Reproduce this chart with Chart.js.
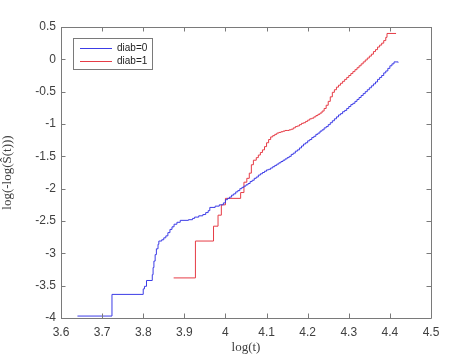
<!DOCTYPE html>
<html>
<head>
<meta charset="utf-8">
<script src="https://cdn.jsdelivr.net/npm/chart.js@4"></script>
<style>
html,body{margin:0;padding:0;background:#fff;}
#wrap{width:474px;height:355px;}
</style>
</head>
<body>
<div id="wrap"><canvas id="c" width="474" height="355"></canvas></div>
<script>
const seriesLabels = ['diab=0', 'diab=1'];
const xTicks = [3.6, 3.7, 3.8, 3.9, 4.0, 4.1, 4.2, 4.3, 4.4, 4.5];
const yTicks = [-4, -3.5, -3, -2.5, -2, -1.5, -1, -0.5, 0, 0.5];

const diab0LogT = [3.64,3.724,3.80,3.803,3.808,3.822,3.824,3.826,3.829,3.832,3.836,3.838,3.845,3.85,3.855,3.86,3.865,3.87,3.875,3.882,3.89,3.91,3.92,3.925,3.935,3.945,3.952,3.958,3.962,3.975,3.985,3.995,
  4.0,4.005,4.01,4.015,4.02,4.025,4.03,4.035,4.04,4.045,4.05,4.055,4.06,4.065,4.07,4.075,4.08,4.085,4.09,4.095,4.1,4.105,4.11,4.115,4.12,4.125,4.13,4.135,4.14,4.145,4.15,4.155,4.16,4.165,4.17,4.175,4.18,4.185,4.19,4.195,4.2,4.205,4.21,4.215,4.22,4.225,4.23,4.235,4.24,4.245,4.25,4.255,4.26,4.265,4.27,4.275,4.28,4.285,4.29,4.295,4.3,4.305,4.31,4.315,4.32,4.325,4.33,4.335,4.34,4.345,4.35,4.355,4.36,4.365,4.37,4.375,4.38,4.385,4.39,4.395,4.4,4.405,4.41,4.415,4.42];
const diab0Value = [-3.97,-3.635,-3.55,-3.51,-3.42,-3.33,-3.22,-3.12,-3.02,-2.93,-2.86,-2.81,-2.79,-2.76,-2.73,-2.68,-2.63,-2.59,-2.55,-2.52,-2.49,-2.48,-2.46,-2.44,-2.42,-2.40,-2.37,-2.34,-2.29,-2.27,-2.25,-2.22,
  -2.17,-2.15,-2.13,-2.10,-2.08,-2.05,-2.03,-2.00,-1.98,-1.96,-1.94,-1.92,-1.89,-1.87,-1.84,-1.82,-1.79,-1.77,-1.75,-1.73,-1.71,-1.70,-1.68,-1.66,-1.64,-1.62,-1.60,-1.58,-1.56,-1.54,-1.52,-1.50,-1.47,-1.45,-1.42,-1.40,-1.37,-1.34,-1.31,-1.29,-1.26,-1.24,-1.21,-1.19,-1.16,-1.14,-1.11,-1.09,-1.06,-1.04,-1.01,-0.98,-0.95,-0.92,-0.89,-0.86,-0.84,-0.81,-0.79,-0.76,-0.73,-0.70,-0.68,-0.65,-0.62,-0.59,-0.56,-0.53,-0.50,-0.47,-0.44,-0.41,-0.38,-0.35,-0.31,-0.28,-0.25,-0.21,-0.18,-0.14,-0.10,-0.07,-0.04,-0.04,-0.05];

const diab1LogT = [3.874,3.927,3.971,3.982,3.99,4.0,4.037,4.045,4.052,4.058,4.063,4.068,4.075,4.08,4.085,4.09,4.095,4.1,4.105,4.11,4.115,4.12,4.125,4.13,4.135,4.14,4.145,4.15,4.155,4.16,4.165,4.17,4.175,4.18,4.185,4.19,4.195,4.2,4.205,4.21,4.215,4.22,4.225,4.23,4.235,4.24,4.245,4.25,4.255,4.26,4.265,4.27,4.275,4.28,4.285,4.29,4.295,4.3,4.305,4.31,4.315,4.32,4.325,4.33,4.335,4.34,4.345,4.35,4.355,4.36,4.365,4.37,4.375,4.38,4.385,4.39,4.393,4.415];
const diab1Value = [-3.38,-2.81,-2.58,-2.41,-2.25,-2.15,-2.06,-1.90,-1.84,-1.76,-1.63,-1.56,-1.52,-1.48,-1.44,-1.40,-1.35,-1.29,-1.24,-1.20,-1.18,-1.16,-1.14,-1.13,-1.12,-1.11,-1.10,-1.10,-1.09,-1.08,-1.06,-1.04,-1.03,-1.01,-0.99,-0.98,-0.96,-0.94,-0.92,-0.91,-0.89,-0.87,-0.85,-0.83,-0.80,-0.76,-0.71,-0.65,-0.58,-0.51,-0.47,-0.43,-0.40,-0.37,-0.34,-0.31,-0.28,-0.25,-0.22,-0.19,-0.16,-0.13,-0.10,-0.07,-0.04,-0.01,0.02,0.05,0.08,0.12,0.15,0.19,0.22,0.25,0.29,0.34,0.40,0.40];

const colors = ['#3c3ce6', '#e63c46'];
const axisColor = '#7a7a7a';
const tickTextColor = '#404040';

function pts(xs, ys){ return xs.map((x,i)=>({x:x, y:ys[i]})); }

const boxTicksPlugin = {
  id: 'boxTicks',
  afterDatasetsDraw(chart){
    const {ctx, chartArea:a, scales} = chart;
    ctx.save();
    ctx.strokeStyle = axisColor;
    ctx.lineWidth = 1;
    ctx.beginPath();
    ctx.rect(Math.round(a.left)+0.5, Math.round(a.top)+0.5, Math.round(a.right-a.left), Math.round(a.bottom-a.top));
    ctx.stroke();
    const L = 4.5;
    ctx.beginPath();
    xTicks.forEach(v=>{
      const px = Math.round(scales.x.getPixelForValue(v))+0.5;
      ctx.moveTo(px, a.bottom); ctx.lineTo(px, a.bottom-L);
      ctx.moveTo(px, a.top); ctx.lineTo(px, a.top+L);
    });
    yTicks.forEach(v=>{
      const py = Math.round(scales.y.getPixelForValue(v))+0.5;
      ctx.moveTo(a.left, py); ctx.lineTo(a.left+L, py);
      ctx.moveTo(a.right, py); ctx.lineTo(a.right-L, py);
    });
    ctx.stroke();

    // legend box
    const lx = 73, ly = 38, lw = 79, lh = 31;
    ctx.fillStyle = '#fff';
    ctx.fillRect(lx+0.5, ly+0.5, lw, lh);
    ctx.strokeStyle = '#7a7a7a';
    ctx.strokeRect(lx+0.5, ly+0.5, lw, lh);
    ctx.font = '10px "Liberation Sans", Arial, sans-serif';
    ctx.textBaseline = 'middle';
    ctx.textAlign = 'left';
    chart.data.datasets.forEach((ds, i)=>{
      const yy = ly + 9.5 + i*13.5;
      ctx.strokeStyle = ds.borderColor;
      ctx.lineWidth = 1;
      ctx.beginPath();
      ctx.moveTo(lx+7, Math.round(yy)+0.5); ctx.lineTo(lx+39, Math.round(yy)+0.5);
      ctx.stroke();
      ctx.fillStyle = '#222';
      ctx.fillText(ds.label, lx+44, yy+0.5);
    });
    ctx.restore();
  }
};

new Chart(document.getElementById('c'), {
  type: 'line',
  data: {
    datasets: [
      {label: seriesLabels[0], data: pts(diab0LogT, diab0Value), borderColor: colors[0], borderWidth: 1, pointRadius: 0, stepped: true, fill: false},
      {label: seriesLabels[1], data: pts(diab1LogT, diab1Value), borderColor: colors[1], borderWidth: 1, pointRadius: 0, stepped: true, fill: false}
    ]
  },
  options: {
    responsive: false,
    animation: false,
    devicePixelRatio: 1,
    layout: {padding: {left: 0, right: 43, top: 27, bottom: 0}},
    plugins: {legend: {display: false}, tooltip: {enabled: false}},
    scales: {
      x: {
        type: 'linear', min: 3.6, max: 4.5,
        afterBuildTicks(s){ s.ticks = xTicks.map(v=>({value:v})); },
        afterFit(s){ s.height = 37; },
        grid: {display: false, drawTicks: false},
        border: {display: false},
        ticks: {
          padding: 7, color: tickTextColor, maxRotation: 0, autoSkip: false,
          font: {family: '"Liberation Sans", Arial, sans-serif', size: 12},
          callback: v => String(Math.round(v*10)/10)
        },
        title: {display: true, text: 'log(t)', color: '#404040', padding: {top: 0, bottom: 0},
          font: {family: '"Liberation Serif", "Times New Roman", serif', size: 13}}
      },
      y: {
        type: 'linear', min: -4, max: 0.5,
        afterBuildTicks(s){ s.ticks = yTicks.map(v=>({value:v})); },
        afterFit(s){ s.width = 61; },
        grid: {display: false, drawTicks: false},
        border: {display: false},
        ticks: {
          padding: 5, color: tickTextColor, autoSkip: false,
          font: {family: '"Liberation Sans", Arial, sans-serif', size: 12},
          callback: v => String(Math.round(v*10)/10)
        },
        title: {display: true, text: 'log(-log(Ŝ(t)))', color: '#404040', padding: {top: 0, bottom: 0},
          font: {family: '"Liberation Serif", "Times New Roman", serif', size: 13}}
      }
    }
  },
  plugins: [boxTicksPlugin]
});
</script>
</body>
</html>
